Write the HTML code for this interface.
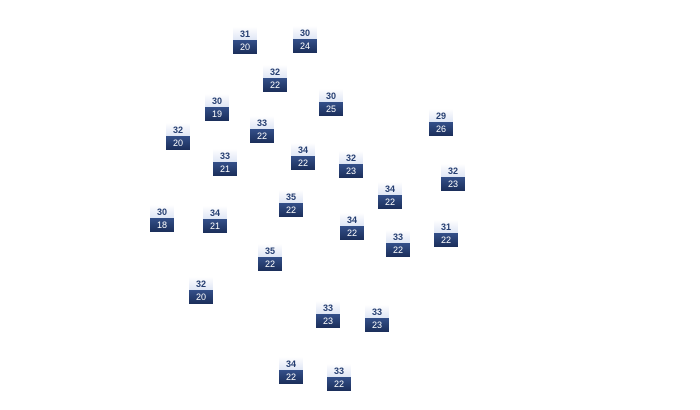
<!DOCTYPE html>
<html><head><meta charset="utf-8"><style>
body{margin:0;width:700px;height:410px;background:#fff;position:relative;overflow:hidden;font-family:"Liberation Sans",sans-serif;}
.b{position:absolute;width:24px;height:27px;}
.t{height:13px;background:linear-gradient(#ffffff,#dfe6f5);color:#243d70;font-weight:bold;font-size:9px;line-height:14px;text-align:center;}
.d{height:14px;background:linear-gradient(#34508a,#1b2e5a);color:#fff;font-size:9px;line-height:14px;text-align:center;}
</style></head><body>
<div class="b" style="left:233px;top:27px"><div class="t">31</div><div class="d">20</div></div>
<div class="b" style="left:293px;top:26px"><div class="t">30</div><div class="d">24</div></div>
<div class="b" style="left:263px;top:65px"><div class="t">32</div><div class="d">22</div></div>
<div class="b" style="left:319px;top:89px"><div class="t">30</div><div class="d">25</div></div>
<div class="b" style="left:205px;top:94px"><div class="t">30</div><div class="d">19</div></div>
<div class="b" style="left:429px;top:109px"><div class="t">29</div><div class="d">26</div></div>
<div class="b" style="left:166px;top:123px"><div class="t">32</div><div class="d">20</div></div>
<div class="b" style="left:250px;top:116px"><div class="t">33</div><div class="d">22</div></div>
<div class="b" style="left:291px;top:143px"><div class="t">34</div><div class="d">22</div></div>
<div class="b" style="left:213px;top:149px"><div class="t">33</div><div class="d">21</div></div>
<div class="b" style="left:339px;top:151px"><div class="t">32</div><div class="d">23</div></div>
<div class="b" style="left:441px;top:164px"><div class="t">32</div><div class="d">23</div></div>
<div class="b" style="left:378px;top:182px"><div class="t">34</div><div class="d">22</div></div>
<div class="b" style="left:279px;top:190px"><div class="t">35</div><div class="d">22</div></div>
<div class="b" style="left:150px;top:205px"><div class="t">30</div><div class="d">18</div></div>
<div class="b" style="left:203px;top:206px"><div class="t">34</div><div class="d">21</div></div>
<div class="b" style="left:340px;top:213px"><div class="t">34</div><div class="d">22</div></div>
<div class="b" style="left:434px;top:220px"><div class="t">31</div><div class="d">22</div></div>
<div class="b" style="left:386px;top:230px"><div class="t">33</div><div class="d">22</div></div>
<div class="b" style="left:258px;top:244px"><div class="t">35</div><div class="d">22</div></div>
<div class="b" style="left:189px;top:277px"><div class="t">32</div><div class="d">20</div></div>
<div class="b" style="left:316px;top:301px"><div class="t">33</div><div class="d">23</div></div>
<div class="b" style="left:365px;top:305px"><div class="t">33</div><div class="d">23</div></div>
<div class="b" style="left:279px;top:357px"><div class="t">34</div><div class="d">22</div></div>
<div class="b" style="left:327px;top:364px"><div class="t">33</div><div class="d">22</div></div>
</body></html>
